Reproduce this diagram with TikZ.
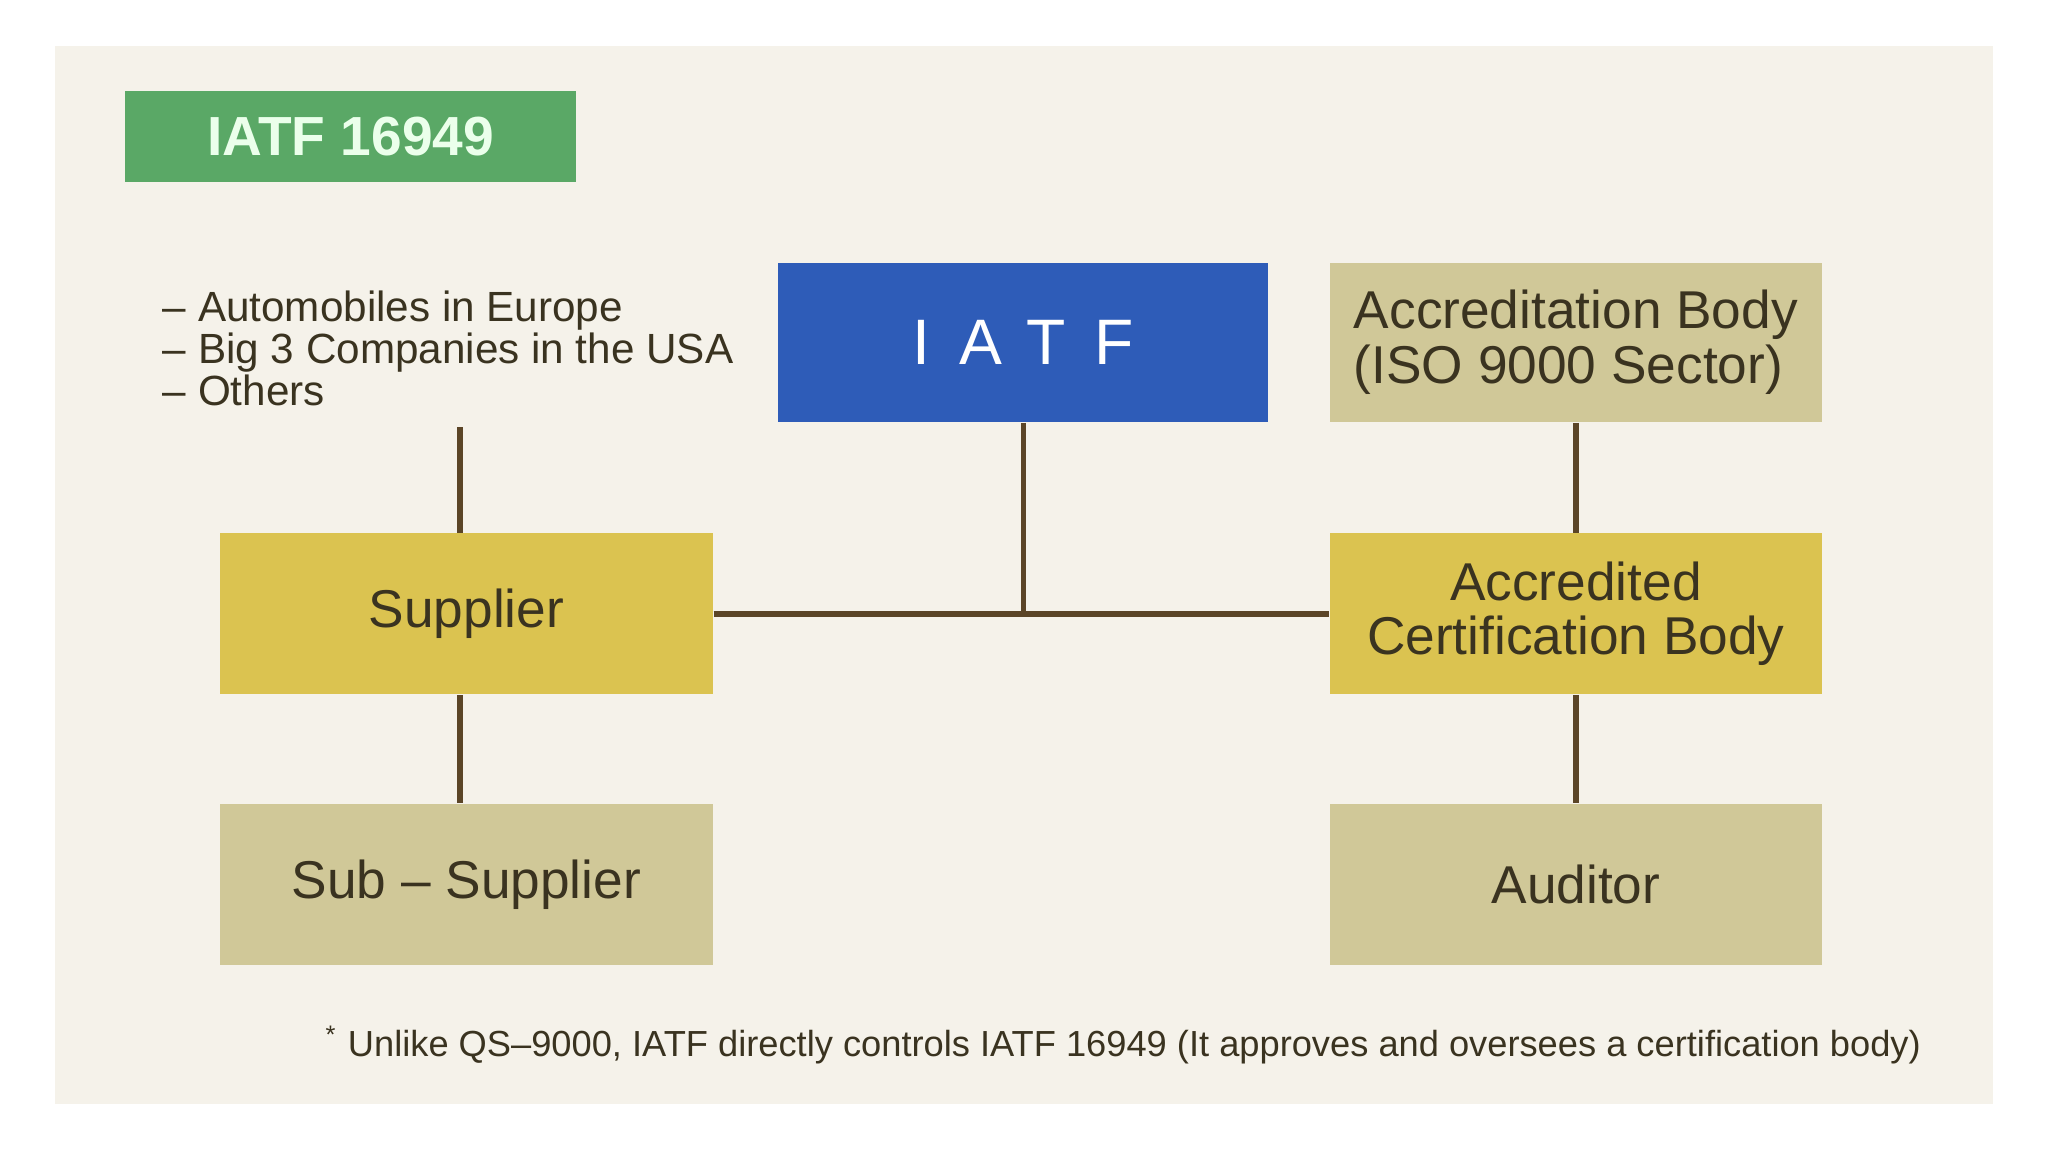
\documentclass[tikz,border=0pt]{standalone}
\usepackage{fontspec}
\setmainfont{Liberation Sans}
\usepackage{tikz}
\usetikzlibrary{positioning}

\definecolor{panelbg}{HTML}{F5F2EA}
\definecolor{titlegreen}{HTML}{5AA866}
\definecolor{iatfblue}{HTML}{2E5CB8}
\definecolor{boxkhaki}{HTML}{D0C898}
\definecolor{boxyellow}{HTML}{DBC350}
\definecolor{linkbrown}{HTML}{5B4527}
\definecolor{textdark}{HTML}{3A3320}

\tikzset{
    box/.style={rectangle, inner sep=0pt, minimum width=3.77cm, minimum height=1.23cm,
        align=center, text=textdark, font=\fontsize{11.6}{11.8}\selectfont},
    khakibox/.style={box, fill=boxkhaki},
    yellowbox/.style={box, fill=boxyellow},
    link/.style={draw=linkbrown, line width=1.2pt}
}

\begin{document}
\begin{tikzpicture}
        \useasboundingbox (0,0) rectangle (15.68,8.82);
        \fill[white] (0,0) rectangle (15.68,8.82);
        \fill[panelbg] (0.42,0.37) rectangle (15.26,8.47);

        % Add the title and the members
        \node[fill=titlegreen, minimum width=3.45cm, minimum height=0.69cm, inner sep=0pt,
            text=green!8, font=\fontsize{12}{14}\selectfont\bfseries] (title) at (2.685,7.775) {IATF 16949};
        \node[anchor=north west, align=left, inner sep=0pt, text=textdark,
            font=\fontsize{9.2}{9.1}\selectfont] (members) at (1.24,6.6)
            {-- Automobiles in Europe\\-- Big 3 Companies in the USA\\-- Others};
        \coordinate (memberlink) at (3.52,5.55);

        % Add the boxes
        \node[box, fill=iatfblue, minimum width=3.75cm, minimum height=1.22cm, text=white,
            font=\fontsize{14}{16}\selectfont\addfontfeatures{LetterSpace=45}] (iatf) at (7.835,6.2) {IATF};
        \node[khakibox, minimum height=1.22cm, align=left] (accbody) at (12.065,6.2)
            {Accreditation Body\\(ISO 9000 Sector)};
        \node[yellowbox, below=0.84cm of accbody] (certbody) {Accredited\\Certification Body};
        \node[khakibox, below=0.83cm of certbody] (auditor) {Auditor};
        \node[yellowbox, left=4.71cm of certbody] (supplier) {Supplier};
        \node[khakibox, below=0.83cm of supplier] (subsupplier) {Sub -- Supplier};

        % Add the links
        \draw[link] (memberlink) -- (memberlink |- supplier.north);
        \draw[link] (memberlink |- supplier.south) -- (memberlink |- subsupplier.north);
        \draw[link] (supplier.east) -- (certbody.west);
        \draw[link] (iatf.south) -- (iatf.south |- supplier.east);
        \draw[link] (accbody) -- (certbody);
        \draw[link] (certbody) -- (auditor);

        % Add the note
        \node[text=textdark, font=\fontsize{7.9}{9}\selectfont] (note) at (8.6,0.82)
            {\textsuperscript{*} Unlike QS--9000, IATF directly controls IATF 16949 (It approves and oversees a certification body)};
    \end{tikzpicture}
\end{document}
